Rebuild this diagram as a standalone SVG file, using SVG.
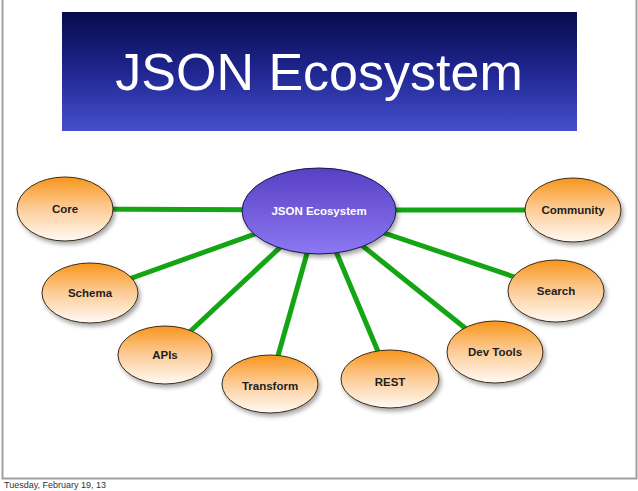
<svg xmlns="http://www.w3.org/2000/svg" width="638" height="491" viewBox="0 0 638 491">
<style>
.node{fill:url(#og);stroke:#3a2c1c;stroke-width:1;filter:url(#sh)}
.lbl{font-family:"Liberation Sans",Arial,sans-serif;font-weight:bold;font-size:11.5px;fill:#1e1e1e;text-anchor:middle}
.con line{stroke:#14a514;stroke-width:5}
</style>
<defs>
<linearGradient id="tg" x1="0" y1="0" x2="0" y2="1">
<stop offset="0" stop-color="#060b4a"/>
<stop offset="0.5" stop-color="#1f2690"/>
<stop offset="1" stop-color="#4650cc"/>
</linearGradient>
<linearGradient id="og" x1="0" y1="0" x2="0" y2="1">
<stop offset="0" stop-color="#f8951a"/>
<stop offset="0.45" stop-color="#fcc88e"/>
<stop offset="1" stop-color="#fffaf5"/>
</linearGradient>
<linearGradient id="cg" x1="0" y1="0" x2="0" y2="1">
<stop offset="0" stop-color="#5840c4"/>
<stop offset="1" stop-color="#8c78f2"/>
</linearGradient>
<filter id="sh" x="-20%" y="-20%" width="150%" height="160%">
<feDropShadow dx="2" dy="3" stdDeviation="2" flood-color="#000" flood-opacity="0.35"/>
</filter>
</defs>
<rect x="0" y="0" width="638" height="491" fill="#fff"/>
<path d="M2.5,0 V478.5 H636.5 V0" fill="none" stroke="#a0a0a0" stroke-width="2"/>
<g id="title">
<rect x="62" y="12" width="515" height="119" fill="url(#tg)"/>
<text x="319" y="90" font-family="'Liberation Sans',Arial,sans-serif" font-size="52" fill="#fff" text-anchor="middle">JSON Ecosystem</text>
</g>
<g id="connectors" class="con">
<line x1="65" y1="209" x2="319" y2="210"/>
<line x1="573" y1="210" x2="319" y2="210"/>
<line x1="90" y1="293" x2="319" y2="211"/>
<line x1="165" y1="355" x2="319" y2="211"/>
<line x1="270" y1="384" x2="319" y2="211"/>
<line x1="390" y1="380" x2="319" y2="211"/>
<line x1="495" y1="352" x2="319" y2="211"/>
<line x1="556" y1="291" x2="319" y2="211"/>
</g>
<g id="center">
<ellipse cx="319" cy="211" rx="77" ry="43" fill="url(#cg)" stroke="#1a1450" stroke-width="1" filter="url(#sh)"/>
<text x="319" y="215" class="lbl" style="fill:#fff">JSON Ecosystem</text>
</g>
<g id="core"><ellipse class="node" cx="65" cy="209" rx="48" ry="32"/><text class="lbl" x="65" y="213">Core</text></g>
<g id="community"><ellipse class="node" cx="573" cy="210" rx="48" ry="32"/><text class="lbl" x="573" y="214">Community</text></g>
<g id="schema"><ellipse class="node" cx="90" cy="293" rx="48" ry="30"/><text class="lbl" x="90" y="297">Schema</text></g>
<g id="search"><ellipse class="node" cx="556" cy="291" rx="48" ry="31"/><text class="lbl" x="556" y="295">Search</text></g>
<g id="apis"><ellipse class="node" cx="165" cy="355" rx="47" ry="29"/><text class="lbl" x="165" y="359">APIs</text></g>
<g id="devtools"><ellipse class="node" cx="495" cy="352" rx="48" ry="31"/><text class="lbl" x="495" y="356">Dev Tools</text></g>
<g id="transform"><ellipse class="node" cx="270" cy="384" rx="48" ry="29"/><text class="lbl" x="270" y="390">Transform</text></g>
<g id="rest"><ellipse class="node" cx="390" cy="379" rx="49" ry="29"/><text class="lbl" x="390" y="386">REST</text></g>
<text x="4" y="488" font-family="'Liberation Sans',Arial,sans-serif" font-size="9" fill="#333">Tuesday, February 19, 13</text>
</svg>
